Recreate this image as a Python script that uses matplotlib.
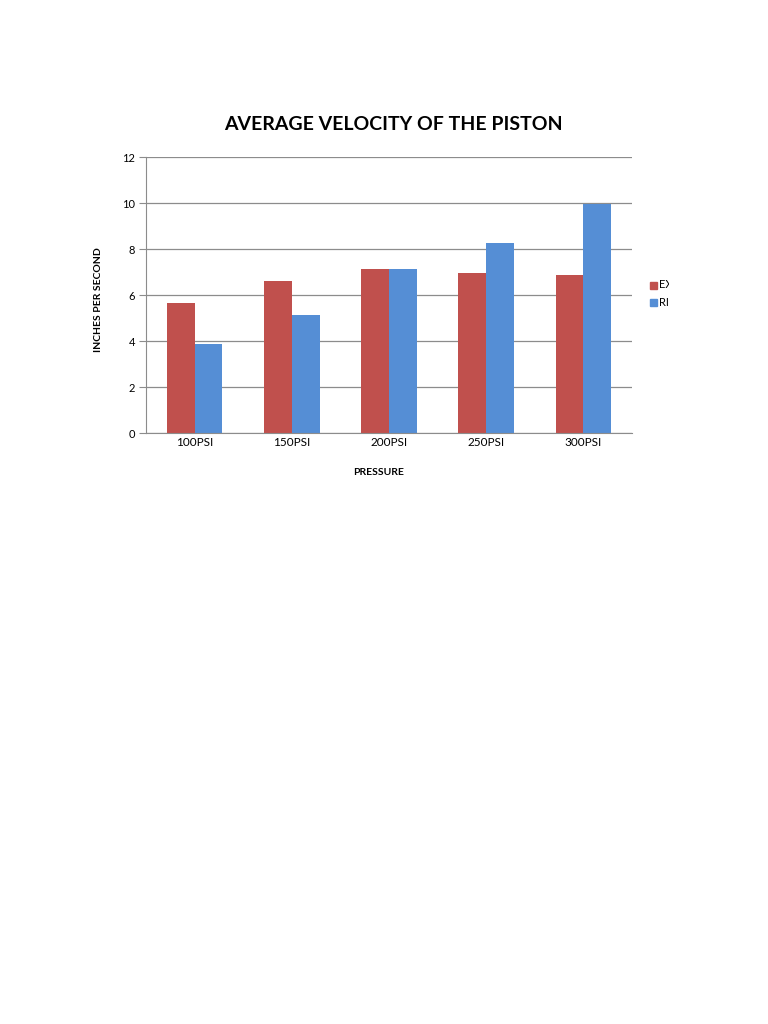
"""Average velocity of the piston: grouped bar chart by pressure."""
import matplotlib.pyplot as plt
import numpy as np
from matplotlib.patches import Rectangle

pressures = ["100PSI", "150PSI", "200PSI", "250PSI", "300PSI"]
series_names = ["EX", "RI"]
ex_values = [5.65, 6.6, 7.15, 6.97, 6.88]
ri_values = [3.87, 5.12, 7.15, 8.27, 9.97]
y_ticks = [0, 2, 4, 6, 8, 10, 12]

RED = "#C0504D"
BLUE = "#558ED5"
GRID = "#8C8C8C"


def main():
    plt.rcParams["font.family"] = ["Lato", "DejaVu Sans"]
    fig = plt.figure(figsize=(7.68, 10.24), dpi=100)
    W, H = 768, 1024
    ax = fig.add_axes([146 / W, 1 - 433 / H, 486 / W, 276 / H])

    x = np.arange(len(pressures))
    width = 0.285
    ax.bar(x - width / 2, ex_values, width, color=RED, zorder=3)
    ax.bar(x + width / 2, ri_values, width, color=BLUE, zorder=3)

    ax.set_xlim(-0.5, len(pressures) - 0.5)
    ax.set_ylim(0, 12)
    ax.set_yticks(y_ticks)
    ax.set_yticklabels([str(v) for v in y_ticks], fontsize=8)
    ax.set_xticks(x)
    ax.set_xticklabels(pressures, fontsize=8.5)
    ax.tick_params(axis="x", length=0, pad=3)
    ax.tick_params(axis="y", length=5, color=GRID, pad=3)
    ax.yaxis.grid(True, color=GRID, linewidth=0.9, zorder=0)
    for side in ["top", "right"]:
        ax.spines[side].set_visible(False)
    ax.spines["left"].set_color(GRID)
    ax.spines["bottom"].set_color(GRID)
    ax.spines["bottom"].set_zorder(4)

    ax.set_xlabel("PRESSURE", fontsize=7.5, fontweight="bold")
    ax.xaxis.set_label_coords((379 - 146) / 486, -(468 - 433) / 276)
    ax.set_ylabel("INCHES PER SECOND", fontsize=7.5, fontweight="bold")
    ax.yaxis.set_label_coords(-(146 - 103) / 486, (433 - 300) / 276)
    fig.text(393 / W, 1 - 124 / H, "AVERAGE VELOCITY OF THE PISTON",
             ha="center", va="center", fontsize=14, fontweight="bold")

    # legend, cut off at the right edge like the original
    clip = Rectangle((0, 0), 669 / W, 1, transform=fig.transFigure)
    for i, (name, color) in enumerate(zip(series_names, [RED, BLUE])):
        yc = 1 - (285 + i * 17) / H
        fig.patches.append(Rectangle((650 / W, yc - 3.5 / H), 7 / W, 7 / H,
                                     transform=fig.transFigure, color=color))
        t = fig.text(659 / W, yc, name, fontsize=8, va="center")
        t.set_clip_path(clip)

    fig.savefig("out.png", dpi=100)


if __name__ == "__main__":
    main()
